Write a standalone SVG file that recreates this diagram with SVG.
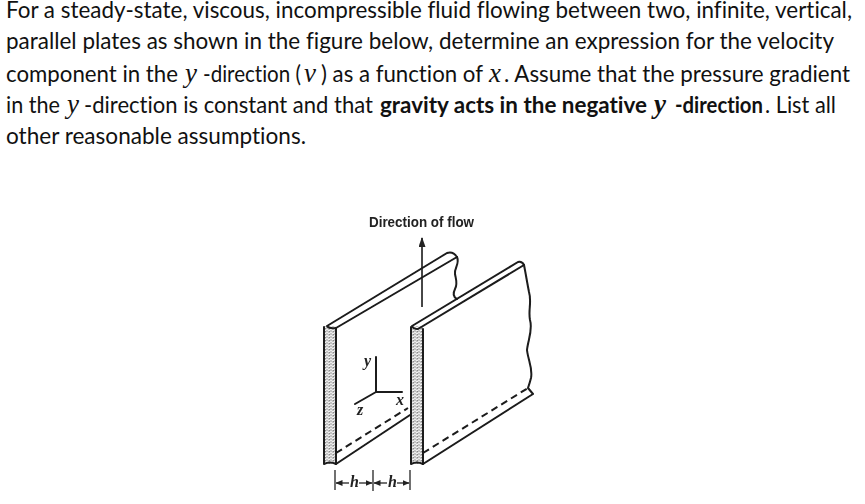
<svg xmlns="http://www.w3.org/2000/svg" width="865" height="504" viewBox="0 0 865 504">
<style>
.t{font-family:"Lato","Open Sans",sans-serif;font-size:23.4px;fill:#111;font-variant-ligatures:none}
.b{font-weight:700}
.m{font-family:"Liberation Serif","DejaVu Serif",serif;font-style:italic;font-size:27px;fill:#111}
.mb{font-weight:700}
.l{fill:none;stroke:#1a1a1a;stroke-width:2;stroke-linecap:round;stroke-linejoin:round}
.d{fill:none;stroke:#1a1a1a;stroke-width:2;stroke-dasharray:7 4.5}
.thin{fill:none;stroke:#222;stroke-width:1.3}
.lab{font-family:"Liberation Sans",Arial,sans-serif;font-size:14px;font-weight:700;fill:#222}
.ax{font-family:"Liberation Serif",serif;font-style:italic;font-weight:700;font-size:16px;fill:#222}
.fig{filter:url(#soft)}
</style>
<defs>
<filter id="soft" x="-5%" y="-5%" width="110%" height="110%"><feGaussianBlur stdDeviation="0.4"/></filter>
<pattern id="st" width="4" height="3" patternUnits="userSpaceOnUse">
<rect width="4" height="3" fill="#c4c4c4"/><rect x="0" y="0" width="2" height="1" fill="#f2f2f2"/><rect x="2" y="2" width="2" height="1" fill="#ececec"/><rect x="1" y="1" width="1" height="1" fill="#8a8a8a"/>
</pattern>
<marker id="ah" markerWidth="7" markerHeight="6" refX="6.5" refY="3" orient="auto-start-reverse" markerUnits="userSpaceOnUse"><path d="M0 0L7 3L0 6Z" fill="#222"/></marker>
<marker id="fa" markerWidth="10" markerHeight="8" refX="9" refY="3.5" orient="auto" markerUnits="userSpaceOnUse"><path d="M0 0L10 3.5L0 7Z" fill="#222"/></marker>
</defs>
<rect width="865" height="504" fill="#fff"/>
<g id="question">
<text class="t" x="6" y="17.5" textLength="846" lengthAdjust="spacingAndGlyphs">For a steady-state, viscous, incompressible fluid flowing between two, infinite, vertical,</text>
<text class="t" x="6" y="49" textLength="828" lengthAdjust="spacingAndGlyphs">parallel plates as shown in the figure below, determine an expression for the velocity</text>
<text class="t" x="6" y="81.5" textLength="172" lengthAdjust="spacingAndGlyphs">component in the</text>
<text class="m" x="185" y="81.5">y</text>
<text class="t" x="203" y="81.5" textLength="98" lengthAdjust="spacingAndGlyphs">-direction (</text>
<text class="m" x="304" y="81.5">v</text>
<text class="t" x="321" y="81.5" textLength="162" lengthAdjust="spacingAndGlyphs">) as a function of</text>
<text class="m" x="489" y="81.5">x</text>
<text class="t" x="504" y="81.5" textLength="346" lengthAdjust="spacingAndGlyphs">. Assume that the pressure gradient</text>
<text class="t" x="6" y="112.5" textLength="54" lengthAdjust="spacingAndGlyphs">in the</text>
<text class="m" x="67" y="112.5">y</text>
<text class="t" x="84" y="112.5" textLength="289" lengthAdjust="spacingAndGlyphs">-direction is constant and that</text>
<text class="t b" x="380" y="112.5" textLength="267" lengthAdjust="spacingAndGlyphs">gravity acts in the negative</text>
<text class="m mb" x="654" y="112.5">y</text>
<text class="t b" x="675" y="112.5" textLength="88" lengthAdjust="spacingAndGlyphs">-direction</text>
<text class="t" x="765" y="112.5" textLength="71" lengthAdjust="spacingAndGlyphs">. List all</text>
<text class="t" x="6" y="143.5" textLength="300" lengthAdjust="spacingAndGlyphs">other reasonable assumptions.</text>
</g>
<g id="flow-arrow" class="fig">
<line x1="422" y1="307" x2="422" y2="238" stroke="#333" stroke-width="1.8" marker-end="url(#fa)"/>
<text class="lab" x="369" y="227" textLength="105" lengthAdjust="spacingAndGlyphs">Direction of flow</text>
</g>
<g id="plate-left" class="fig">
<rect x="324" y="326" width="12" height="138" fill="url(#st)"/>
<path class="l" d="M324 327V464M336 328V464M324 464Q330 461 336 464"/>
<path class="l" d="M327 326L447 253Q453 251 457 257L336 328Q329 329 327 326Z"/>
<path class="l" d="M457 257C460 264 454 268 455 274C456 280 458 284 455 289C453 293 453 297 457 299"/>
<path class="l" d="M336 464L410 415"/>
<path class="d" d="M336 453L408 408"/>
</g>
<g id="plate-right" class="fig">
<rect x="411" y="326" width="12" height="138" fill="url(#st)"/>
<path class="l" d="M411 327V464M423 329V464M411 464Q417 461 423 464"/>
<path class="l" d="M412 326L518 262Q522 261 524 265L418 329Q413 329 412 326Z"/>
<path class="l" d="M524 265C526 275 527 282 529 292C532 302 528 310 530 320C533 330 528 340 527 350C528 360 533 368 531 378C530 382 529 385 528 388L533 394L423 464"/>
<path class="d" d="M423 453L528 388"/>
</g>
<g id="axes" class="fig">
<path class="l" d="M376 357V392H402M376 392L355 404"/>
<text class="ax" x="364" y="366">y</text>
<text class="ax" x="396" y="405">x</text>
<text class="ax" x="357" y="415">z</text>
</g>
<g id="dimensions" class="fig">
<path class="thin" d="M335 470V490M373 470V491M410 470V490"/>
<path class="thin" d="M336 483H349" marker-start="url(#ah)"/>
<path class="thin" d="M359 483H372" marker-end="url(#ah)"/>
<path class="thin" d="M374 483H387" marker-start="url(#ah)"/>
<path class="thin" d="M397 483H409" marker-end="url(#ah)"/>
<text class="ax" x="350" y="487">h</text>
<text class="ax" x="388" y="487">h</text>
</g>
</svg>
